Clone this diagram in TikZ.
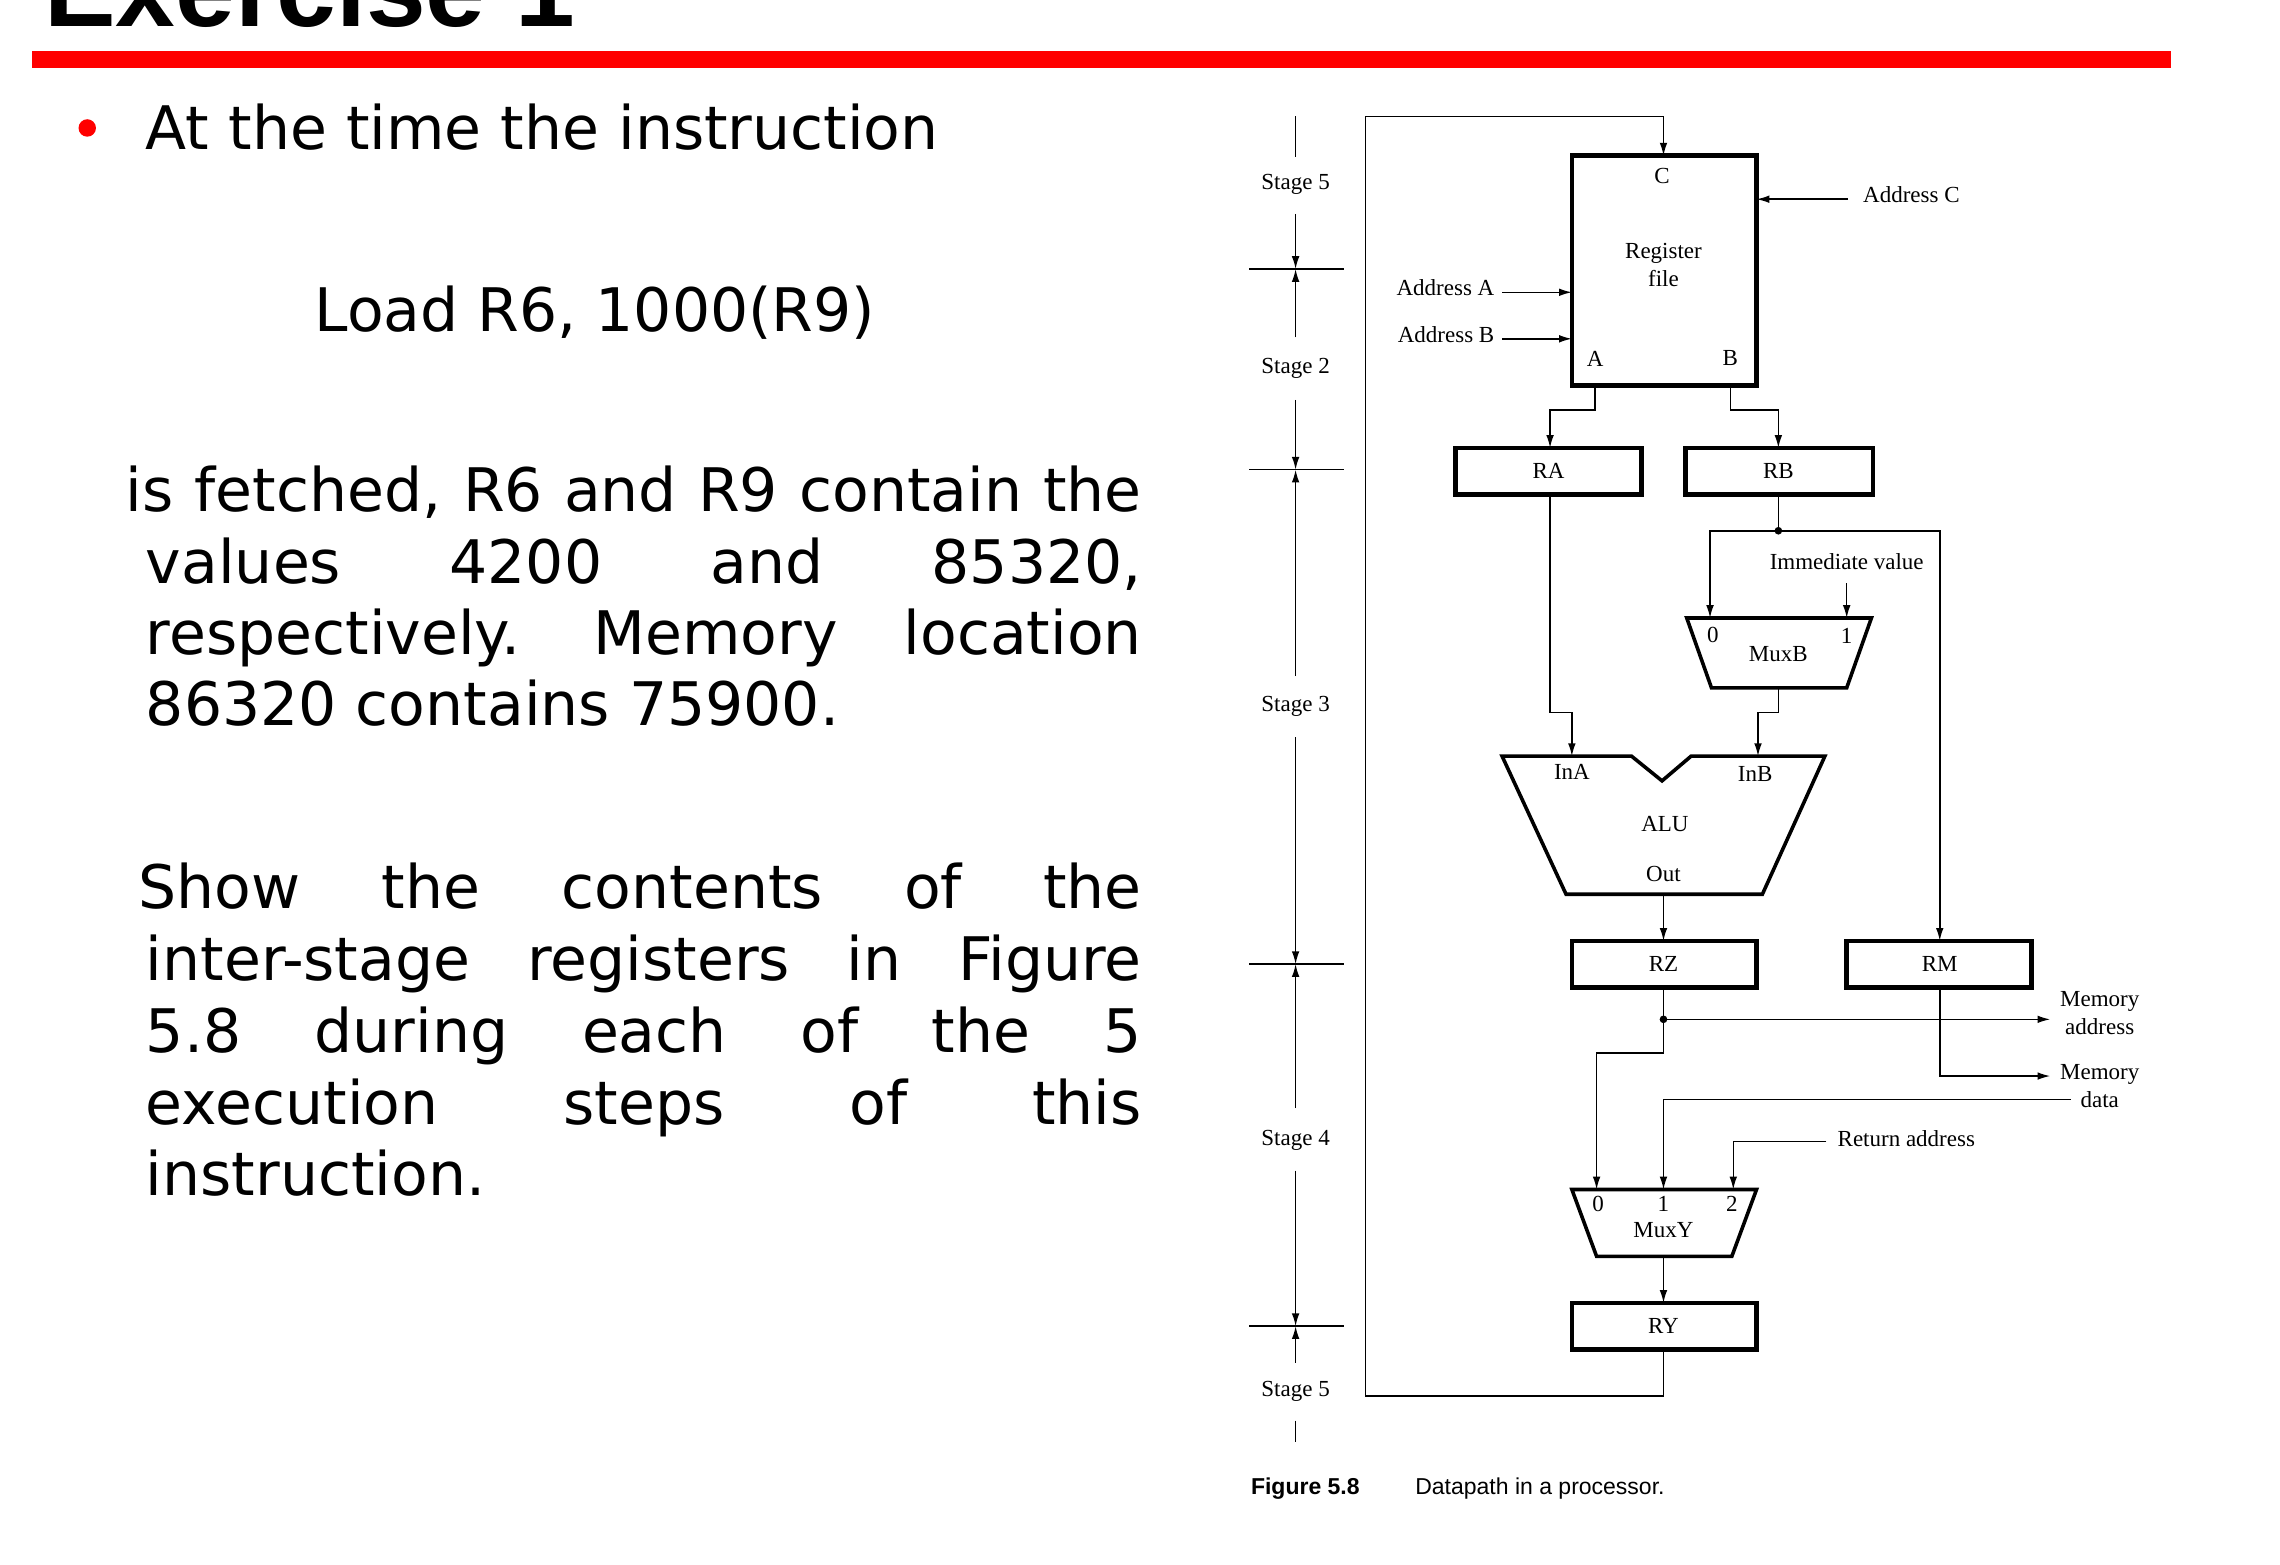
\documentclass[tikz,border=0pt]{standalone}
\usepackage{fontspec}
\setmainfont{DejaVu Sans}
\newfontfamily\dser{Liberation Serif}
\newfontfamily\hsans{Liberation Sans}
\usetikzlibrary{arrows.meta}
\begin{document}
\begin{tikzpicture}[x=0.02cm,y=-0.02cm,
 body/.style={anchor=base west,inner sep=0,font=\fontsize{23.5}{27}\selectfont},
 lab/.style={inner sep=0,font=\dser\fontsize{9}{11}\selectfont,align=center},
 thin/.style={line width=0.6pt},
 arr/.style={thin,-{Latex[length=5pt,width=3pt]}},
 reg/.style={line width=1.8pt},
 dot/.style={circle,fill,inner sep=0,minimum size=3pt}]
\useasboundingbox (0,0) rectangle (1568,1076);
% title
\node[anchor=base west,inner sep=0,font=\hsans\bfseries\fontsize{42}{44}\selectfont] (title) at (30,18) {Exercise 1};
\fill[red] (22,35) rectangle (1493,47);
% text
\fill[red] (60,88) circle (6);
\node[body] (t1) at (100,103) {At the time the instruction};
\node[body] (t2) at (216,228) {Load R6, 1000(R9)};
\node[body] (t3) at (86,352) {\makebox[13.98cm][s]{is fetched, R6 and R9 contain the}};
\node[body] (t4) at (100,401) {\makebox[13.7cm][s]{values \hfill 4200 \hfill and \hfill 85320,}};
\node[body] (t5) at (100,450) {\makebox[13.7cm][s]{respectively. \hfill Memory \hfill location}};
\node[body] (t6) at (100,499) {86320 contains 75900.};
\node[body] (t7) at (95,625) {\makebox[13.8cm][s]{Show \hfill the \hfill contents \hfill of \hfill the}};
\node[body] (t8) at (100,674) {\makebox[13.7cm][s]{inter-stage \hfill registers \hfill in \hfill Figure}};
\node[body] (t9) at (100,724) {\makebox[13.7cm][s]{5.8 \hfill during \hfill each \hfill of \hfill the \hfill 5}};
\node[body] (t10) at (100,773) {\makebox[13.7cm][s]{execution \hfill steps \hfill of \hfill this}};
\node[body] (t11) at (100,822) {instruction.};
% stage column
\foreach \y in {185,323,663,912} \draw[thin] (859,\y) -- (924,\y);
\node[lab] (s5a) at (891,127) {Stage 5};
\node[lab] (s2) at (891,253) {Stage 2};
\node[lab] (s3) at (891,486) {Stage 3};
\node[lab] (s4) at (891,784) {Stage 4};
\node[lab] (s5b) at (891,957) {Stage 5};
\draw[thin] (891,80) -- (891,108);
\draw[arr] (891,147) -- (891,185);
\draw[arr] (891,232) -- (891,185);
\draw[arr] (891,275) -- (891,323);
\draw[arr] (891,465) -- (891,323);
\draw[arr] (891,507) -- (891,663);
\draw[arr] (891,762) -- (891,663);
\draw[arr] (891,805) -- (891,912);
\draw[arr] (891,937) -- (891,912);
\draw[thin] (891,977) -- (891,992);
% register file
\draw[reg] (1081,107) rectangle (1208,265);
\node[lab] (rc) at (1143,121) {C};
\node[lab] (rf) at (1144,182) {Register\\file};
\node[lab] (ra) at (1097,247) {A};
\node[lab] (rb) at (1190,246) {B};
\node[lab,anchor=west] (adc) at (1281,134) {Address C};
\draw[arr] (1271,137) -- (1208,137);
\node[lab,anchor=east] (ada) at (1028,198) {Address A};
\node[lab,anchor=east] (adb) at (1028,230) {Address B};
\draw[arr] (1033,201) -- (1081,201);
\draw[arr] (1033,233) -- (1081,233);
% feedback
\draw[arr] (1144,928) -- (1144,960) -- (939,960) -- (939,80) -- (1144,80) -- (1144,107);
% RA RB
\draw[reg] (1001,308) rectangle (1129,340); \node[lab] (RA) at (1065,324) {RA};
\draw[reg] (1159,308) rectangle (1288,340); \node[lab] (RB) at (1223,324) {RB};
\draw[arr] (1097,265) -- (1097,282) -- (1066,282) -- (1066,308);
\draw[arr] (1190,265) -- (1190,282) -- (1223,282) -- (1223,308);
% MuxB
\draw[reg,line width=1.4pt] (1160,425) -- (1287,425) -- (1270,473) -- (1177,473) -- cycle;
\node[lab] (m0) at (1178,437) {0};
\node[lab] (m1) at (1270,437) {1};
\node[lab] (mb) at (1223,450) {MuxB};
\draw[thin] (1223,340) -- (1223,365);
\node[dot] (d1) at (1223,365) {};
\draw[arr] (1223,365) -- (1176,365) -- (1176,425);
\draw[arr] (1223,365) -- (1334,365) -- (1334,647);
\node[lab] (imm) at (1270,386) {Immediate value};
\draw[arr] (1270,401) -- (1270,425);
% ALU
\draw[reg,line width=1.4pt] (1033,520) -- (1122,520) -- (1143,537) -- (1163,520) -- (1255,520) -- (1212,615) -- (1077,615) -- cycle;
\node[lab] (ina) at (1081,531) {InA};
\node[lab] (inb) at (1207,532) {InB};
\node[lab] (alu) at (1145,567) {ALU};
\node[lab] (out) at (1144,601) {Out};
\draw[arr] (1066,340) -- (1066,490) -- (1081,490) -- (1081,520);
\draw[arr] (1223,473) -- (1223,490) -- (1209,490) -- (1209,520);
\draw[arr] (1144,615) -- (1144,647);
% RZ RM
\draw[reg] (1081,647) rectangle (1208,679); \node[lab] (RZ) at (1144,663) {RZ};
\draw[reg] (1270,647) rectangle (1397,679); \node[lab] (RM) at (1334,663) {RM};
\draw[thin] (1144,679) -- (1144,701);
\node[dot] (d2) at (1144,701) {};
\draw[arr] (1144,701) -- (1410,701);
\node[lab] (ma) at (1444,697) {Memory\\address};
\draw[arr] (1334,679) -- (1334,740) -- (1410,740);
\node[lab] (md) at (1444,747) {Memory\\data};
\draw[arr] (1144,701) -- (1144,724) -- (1098,724) -- (1098,818);
\draw[arr] (1424,756) -- (1144,756) -- (1144,818);
\node[lab] (ret) at (1311,783) {Return address};
\draw[arr] (1256,785) -- (1192,785) -- (1192,818);
% MuxY
\draw[reg,line width=1.4pt] (1081,818) -- (1208,818) -- (1191,864) -- (1098,864) -- cycle;
\node[lab] (y0) at (1099,828) {0};
\node[lab] (y1) at (1144,828) {1};
\node[lab] (y2) at (1191,828) {2};
\node[lab] (my) at (1144,846) {MuxY};
\draw[arr] (1144,864) -- (1144,896);
\draw[reg] (1081,896) rectangle (1208,928); \node[lab] (RY) at (1144,912) {RY};
% caption
\node[anchor=base west,inner sep=0,font=\hsans\bfseries\fontsize{9}{10}\selectfont] (cap1) at (860,1028) {Figure 5.8};
\node[anchor=base west,inner sep=0,font=\hsans\fontsize{9}{10}\selectfont] (cap2) at (973,1028) {Datapath in a processor.};
\end{tikzpicture}
\end{document}
